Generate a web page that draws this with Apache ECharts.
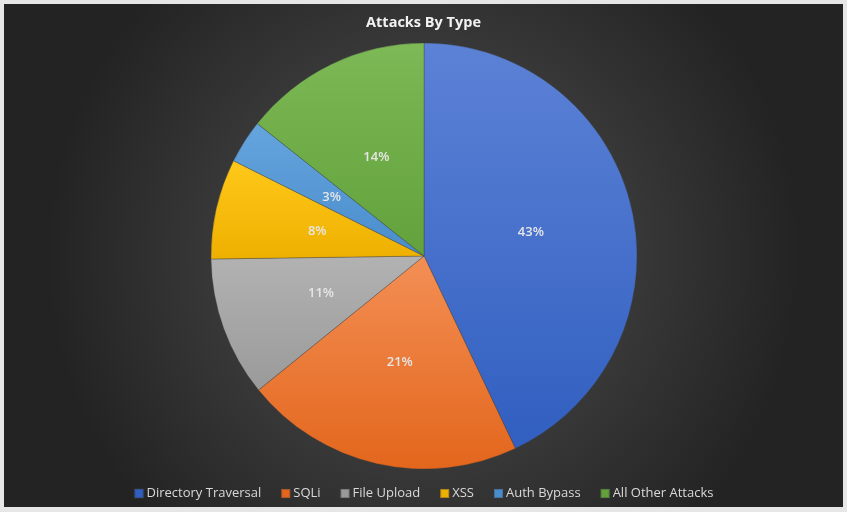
<!DOCTYPE html>
<html>
<head>
<meta charset="utf-8">
<script src="https://cdn.jsdelivr.net/npm/echarts@6/dist/echarts.min.js"></script>
<style>
    html,body{margin:0;padding:0;background:#e6e6e6;}
    #chart{position:absolute;left:4px;top:4px;width:839px;height:503px;}
</style>
</head>
<body>
<div id="chart"></div>
<script>
    // chart data
    var categories = ['Directory Traversal','SQLi','File Upload','XSS','Auth Bypass','All Other Attacks']
    var values = [429,212,106,76,33,143]
    var colorTop = ['#5c82d6','#f38f55','#b2b2b2','#ffc81a','#65a5de','#7db956']
    var colorBottom = ['#315fc0','#e3661c','#9a9a9a','#eeb000','#4a8dcc','#62a13b']

    var myChart = echarts.init(document.getElementById('chart'))
    var pieData = []
    categories.map(function(item,index){
        pieData.push({
            name:item,
            value:values[index],
            itemStyle:{
                color:new echarts.graphic.LinearGradient(0,0,0,1,[
                    {offset:0,color:colorTop[index]},
                    {offset:1,color:colorBottom[index]}
                ])
            }
        })
    })
    var option = {
        backgroundColor:{
            type:'radial',x:0.5,y:0.5,r:0.75,
            colorStops:[
                {offset:0,color:'#525252'},
                {offset:1,color:'#232323'}
            ]
        },
        title:{
            text:'Attacks By Type',
            left:'center',
            top:6,
            textStyle:{
                color:'#f2f2f2',
                fontSize:14.5,
                fontWeight:'bold',
                fontFamily:'Open Sans'
            }
        },
        legend:{
            bottom:2,
            left:'center',
            itemWidth:9,
            itemHeight:9,
            itemGap:19,
            icon:'rect',
            data:categories.map(function(c,i){
                return {name:c,itemStyle:{color:colorBottom[i]}}
            }),
            textStyle:{
                color:'#d9d9d9',
                fontSize:13,
                fontFamily:'Open Sans',
                padding:[0,0,0,-2]
            }
        },
        series:[{
            type:'pie',
            center:[420,252],
            radius:[0,213],
            startAngle:90,
            clockwise:true,
            percentPrecision:0,
            avoidLabelOverlap:false,
            itemStyle:{
                borderColor:'rgba(60,60,60,0.35)',
                borderWidth:0.5
            },
            label:{
                show:true,
                position:'inner',
                formatter:'{d}%',
                color:'#e6e6e6',
                fontSize:13,
                fontWeight:600,
                fontFamily:'Open Sans'
            },
            labelLine:{show:false},
            emphasis:{disabled:true},
            data:pieData
        }]
    }
    myChart.setOption(option)
</script>
</body>
</html>
